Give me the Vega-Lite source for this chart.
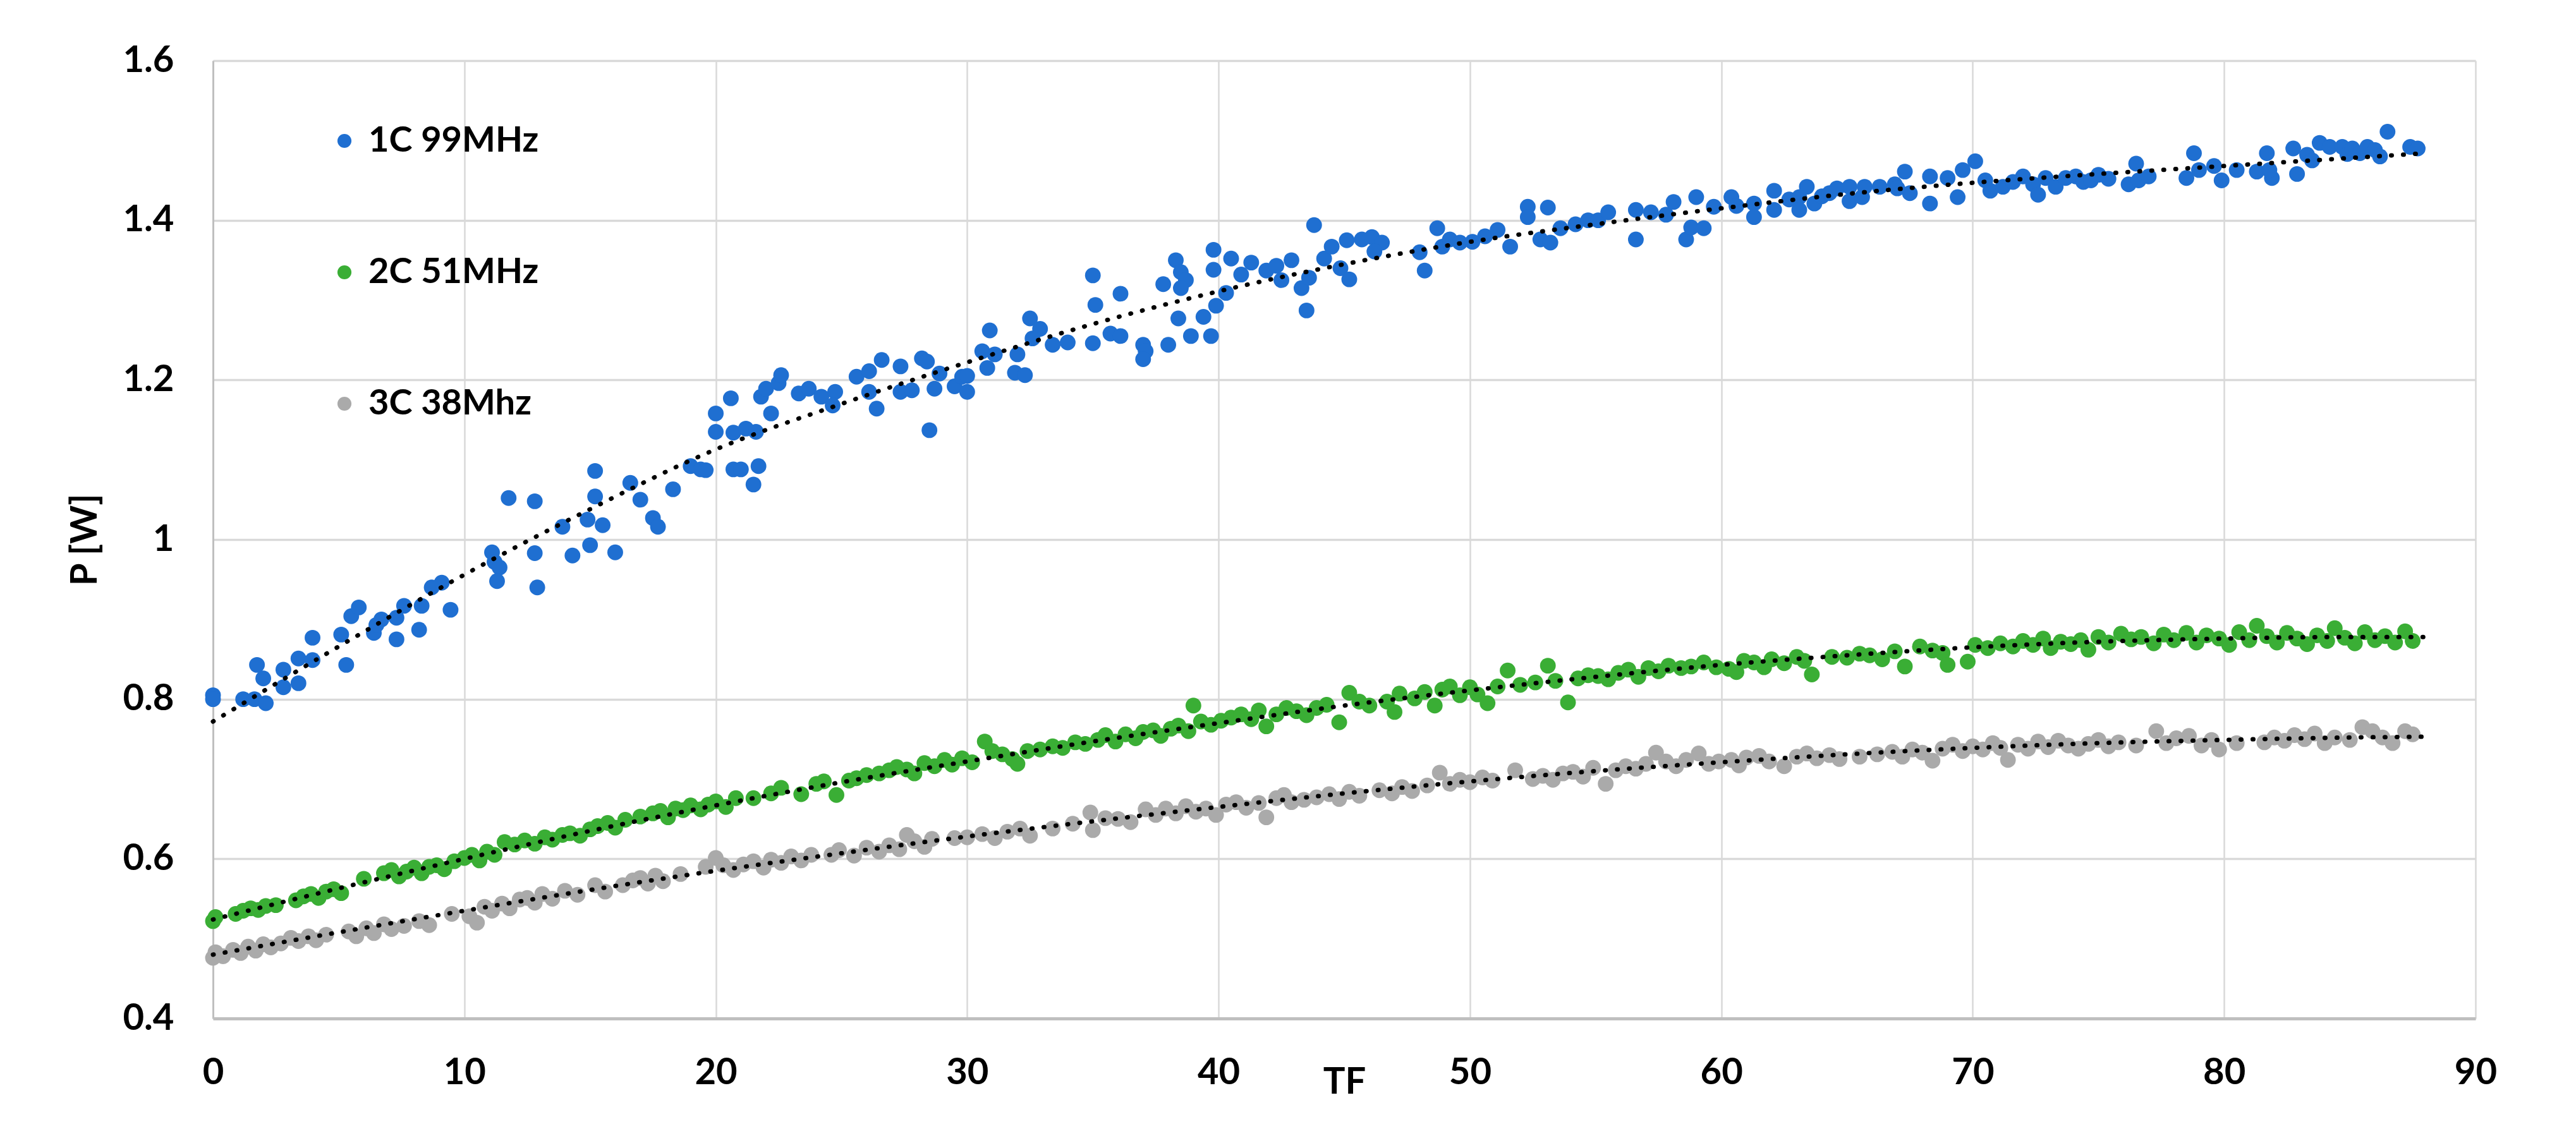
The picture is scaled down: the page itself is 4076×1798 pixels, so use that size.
{
"$schema": "https://vega.github.io/schema/vega-lite/v6.json",
"autosize": {"type": "none"},
"width": 3580,
"height": 1516,
"padding": {"left": 337, "top": 96, "right": 159, "bottom": 186},
"background": "white",
"config": {"view": {"stroke": null}},
"datasets": {
"pts": [
{"s":"1C 99MHz","t":0,"p":0.805},{"s":"1C 99MHz","t":0,"p":0.8},{"s":"1C 99MHz","t":1.2,"p":0.8},{"s":"1C 99MHz","t":1.65,"p":0.8},{"s":"1C 99MHz","t":2.1,"p":0.795},{"s":"1C 99MHz","t":1.75,"p":0.843},{"s":"1C 99MHz","t":2.0,"p":0.826},{"s":"1C 99MHz","t":2.8,"p":0.837},{"s":"1C 99MHz","t":2.8,"p":0.815},{"s":"1C 99MHz","t":3.4,"p":0.851},{"s":"1C 99MHz","t":3.4,"p":0.82},{"s":"1C 99MHz","t":3.96,"p":0.877},{"s":"1C 99MHz","t":3.96,"p":0.849},{"s":"1C 99MHz","t":5.3,"p":0.843},{"s":"1C 99MHz","t":5.1,"p":0.881},{"s":"1C 99MHz","t":5.5,"p":0.904},{"s":"1C 99MHz","t":5.8,"p":0.915},{"s":"1C 99MHz","t":6.4,"p":0.883},{"s":"1C 99MHz","t":6.5,"p":0.893},{"s":"1C 99MHz","t":6.7,"p":0.9},{"s":"1C 99MHz","t":7.3,"p":0.902},{"s":"1C 99MHz","t":7.3,"p":0.875},{"s":"1C 99MHz","t":7.6,"p":0.917},{"s":"1C 99MHz","t":8.2,"p":0.887},{"s":"1C 99MHz","t":8.3,"p":0.917},{"s":"1C 99MHz","t":8.7,"p":0.94},{"s":"1C 99MHz","t":9.1,"p":0.946},{"s":"1C 99MHz","t":9.45,"p":0.912},{"s":"1C 99MHz","t":11.1,"p":0.984},{"s":"1C 99MHz","t":11.2,"p":0.972},{"s":"1C 99MHz","t":11.4,"p":0.965},{"s":"1C 99MHz","t":11.3,"p":0.948},{"s":"1C 99MHz","t":11.76,"p":1.052},{"s":"1C 99MHz","t":12.8,"p":1.048},{"s":"1C 99MHz","t":12.8,"p":0.983},{"s":"1C 99MHz","t":12.9,"p":0.94},{"s":"1C 99MHz","t":13.9,"p":1.016},{"s":"1C 99MHz","t":14.3,"p":0.98},{"s":"1C 99MHz","t":14.9,"p":1.025},{"s":"1C 99MHz","t":15.2,"p":1.086},{"s":"1C 99MHz","t":15.2,"p":1.054},{"s":"1C 99MHz","t":15.5,"p":1.018},{"s":"1C 99MHz","t":15.0,"p":0.993},{"s":"1C 99MHz","t":16.0,"p":0.984},{"s":"1C 99MHz","t":16.6,"p":1.071},{"s":"1C 99MHz","t":17.0,"p":1.05},{"s":"1C 99MHz","t":17.5,"p":1.027},{"s":"1C 99MHz","t":17.7,"p":1.016},{"s":"1C 99MHz","t":18.3,"p":1.063},{"s":"1C 99MHz","t":19.0,"p":1.092},{"s":"1C 99MHz","t":19.4,"p":1.088},{"s":"1C 99MHz","t":19.6,"p":1.087},{"s":"1C 99MHz","t":20.0,"p":1.158},{"s":"1C 99MHz","t":20.0,"p":1.135},{"s":"1C 99MHz","t":20.6,"p":1.177},{"s":"1C 99MHz","t":20.7,"p":1.134},{"s":"1C 99MHz","t":20.7,"p":1.088},{"s":"1C 99MHz","t":21.0,"p":1.088},{"s":"1C 99MHz","t":21.2,"p":1.139},{"s":"1C 99MHz","t":21.6,"p":1.135},{"s":"1C 99MHz","t":21.7,"p":1.092},{"s":"1C 99MHz","t":21.5,"p":1.069},{"s":"1C 99MHz","t":21.8,"p":1.179},{"s":"1C 99MHz","t":22.0,"p":1.189},{"s":"1C 99MHz","t":22.2,"p":1.158},{"s":"1C 99MHz","t":22.5,"p":1.196},{"s":"1C 99MHz","t":22.6,"p":1.206},{"s":"1C 99MHz","t":23.3,"p":1.183},{"s":"1C 99MHz","t":23.7,"p":1.189},{"s":"1C 99MHz","t":24.2,"p":1.179},{"s":"1C 99MHz","t":24.75,"p":1.185},{"s":"1C 99MHz","t":24.65,"p":1.168},{"s":"1C 99MHz","t":25.6,"p":1.204},{"s":"1C 99MHz","t":26.1,"p":1.211},{"s":"1C 99MHz","t":26.6,"p":1.225},{"s":"1C 99MHz","t":26.1,"p":1.185},{"s":"1C 99MHz","t":26.4,"p":1.164},{"s":"1C 99MHz","t":27.35,"p":1.217},{"s":"1C 99MHz","t":27.35,"p":1.185},{"s":"1C 99MHz","t":27.8,"p":1.187},{"s":"1C 99MHz","t":28.2,"p":1.227},{"s":"1C 99MHz","t":28.4,"p":1.223},{"s":"1C 99MHz","t":28.5,"p":1.137},{"s":"1C 99MHz","t":28.7,"p":1.189},{"s":"1C 99MHz","t":28.9,"p":1.208},{"s":"1C 99MHz","t":29.5,"p":1.192},{"s":"1C 99MHz","t":29.8,"p":1.204},
{"s":"1C 99MHz","t":30.0,"p":1.205},{"s":"1C 99MHz","t":30.0,"p":1.185},{"s":"1C 99MHz","t":30.6,"p":1.236},{"s":"1C 99MHz","t":30.8,"p":1.215},{"s":"1C 99MHz","t":31.1,"p":1.232},{"s":"1C 99MHz","t":30.9,"p":1.262},{"s":"1C 99MHz","t":32.0,"p":1.232},{"s":"1C 99MHz","t":31.9,"p":1.209},{"s":"1C 99MHz","t":32.3,"p":1.206},{"s":"1C 99MHz","t":32.5,"p":1.277},{"s":"1C 99MHz","t":32.9,"p":1.264},{"s":"1C 99MHz","t":32.6,"p":1.252},{"s":"1C 99MHz","t":33.4,"p":1.244},{"s":"1C 99MHz","t":34.0,"p":1.247},{"s":"1C 99MHz","t":35.0,"p":1.331},{"s":"1C 99MHz","t":35.1,"p":1.294},{"s":"1C 99MHz","t":35.0,"p":1.246},{"s":"1C 99MHz","t":35.7,"p":1.258},{"s":"1C 99MHz","t":36.1,"p":1.255},{"s":"1C 99MHz","t":36.1,"p":1.308},{"s":"1C 99MHz","t":37.0,"p":1.244},{"s":"1C 99MHz","t":37.1,"p":1.236},{"s":"1C 99MHz","t":37.0,"p":1.226},{"s":"1C 99MHz","t":37.8,"p":1.32},{"s":"1C 99MHz","t":38.0,"p":1.244},{"s":"1C 99MHz","t":38.3,"p":1.35},{"s":"1C 99MHz","t":38.5,"p":1.335},{"s":"1C 99MHz","t":38.7,"p":1.325},{"s":"1C 99MHz","t":38.5,"p":1.315},{"s":"1C 99MHz","t":38.4,"p":1.277},{"s":"1C 99MHz","t":38.9,"p":1.255},{"s":"1C 99MHz","t":39.4,"p":1.279},{"s":"1C 99MHz","t":39.7,"p":1.255},{"s":"1C 99MHz","t":39.8,"p":1.363},{"s":"1C 99MHz","t":39.8,"p":1.338},{"s":"1C 99MHz","t":39.9,"p":1.293},{"s":"1C 99MHz","t":40.3,"p":1.309},{"s":"1C 99MHz","t":40.5,"p":1.352},{"s":"1C 99MHz","t":40.9,"p":1.332},{"s":"1C 99MHz","t":41.3,"p":1.347},{"s":"1C 99MHz","t":41.9,"p":1.337},{"s":"1C 99MHz","t":42.3,"p":1.343},{"s":"1C 99MHz","t":42.5,"p":1.325},{"s":"1C 99MHz","t":42.9,"p":1.35},{"s":"1C 99MHz","t":43.3,"p":1.315},{"s":"1C 99MHz","t":43.5,"p":1.287},{"s":"1C 99MHz","t":43.6,"p":1.328},{"s":"1C 99MHz","t":43.8,"p":1.394},{"s":"1C 99MHz","t":44.2,"p":1.352},{"s":"1C 99MHz","t":44.5,"p":1.367},{"s":"1C 99MHz","t":44.85,"p":1.34},{"s":"1C 99MHz","t":45.1,"p":1.375},{"s":"1C 99MHz","t":45.2,"p":1.326},{"s":"1C 99MHz","t":45.7,"p":1.376},{"s":"1C 99MHz","t":46.1,"p":1.379},{"s":"1C 99MHz","t":46.5,"p":1.372},{"s":"1C 99MHz","t":46.2,"p":1.361},{"s":"1C 99MHz","t":48.0,"p":1.36},{"s":"1C 99MHz","t":48.2,"p":1.337},{"s":"1C 99MHz","t":48.7,"p":1.39},{"s":"1C 99MHz","t":48.9,"p":1.367},{"s":"1C 99MHz","t":49.2,"p":1.376},{"s":"1C 99MHz","t":49.6,"p":1.372},{"s":"1C 99MHz","t":50.1,"p":1.373},{"s":"1C 99MHz","t":50.6,"p":1.38},{"s":"1C 99MHz","t":51.1,"p":1.388},{"s":"1C 99MHz","t":51.6,"p":1.367},{"s":"1C 99MHz","t":52.3,"p":1.417},{"s":"1C 99MHz","t":52.3,"p":1.404},{"s":"1C 99MHz","t":52.8,"p":1.376},{"s":"1C 99MHz","t":53.1,"p":1.416},{"s":"1C 99MHz","t":53.2,"p":1.372},{"s":"1C 99MHz","t":53.6,"p":1.39},{"s":"1C 99MHz","t":54.2,"p":1.395},{"s":"1C 99MHz","t":54.7,"p":1.4},{"s":"1C 99MHz","t":55.1,"p":1.4},{"s":"1C 99MHz","t":55.5,"p":1.41},{"s":"1C 99MHz","t":56.6,"p":1.413},{"s":"1C 99MHz","t":56.6,"p":1.376},{"s":"1C 99MHz","t":57.2,"p":1.41},{"s":"1C 99MHz","t":57.8,"p":1.407},{"s":"1C 99MHz","t":58.1,"p":1.423},{"s":"1C 99MHz","t":58.6,"p":1.376},{"s":"1C 99MHz","t":58.8,"p":1.391},{"s":"1C 99MHz","t":59.0,"p":1.429},{"s":"1C 99MHz","t":59.3,"p":1.39},{"s":"1C 99MHz","t":59.7,"p":1.417},
{"s":"1C 99MHz","t":60.4,"p":1.429},{"s":"1C 99MHz","t":60.6,"p":1.418},{"s":"1C 99MHz","t":61.3,"p":1.421},{"s":"1C 99MHz","t":61.3,"p":1.404},{"s":"1C 99MHz","t":62.1,"p":1.437},{"s":"1C 99MHz","t":62.1,"p":1.413},{"s":"1C 99MHz","t":62.7,"p":1.426},{"s":"1C 99MHz","t":63.1,"p":1.429},{"s":"1C 99MHz","t":63.1,"p":1.413},{"s":"1C 99MHz","t":63.4,"p":1.442},{"s":"1C 99MHz","t":63.7,"p":1.421},{"s":"1C 99MHz","t":64.0,"p":1.43},{"s":"1C 99MHz","t":64.3,"p":1.434},{"s":"1C 99MHz","t":64.6,"p":1.44},{"s":"1C 99MHz","t":65.1,"p":1.442},{"s":"1C 99MHz","t":65.1,"p":1.424},{"s":"1C 99MHz","t":65.6,"p":1.429},{"s":"1C 99MHz","t":65.7,"p":1.442},{"s":"1C 99MHz","t":66.3,"p":1.442},{"s":"1C 99MHz","t":66.9,"p":1.445},{"s":"1C 99MHz","t":67.0,"p":1.44},{"s":"1C 99MHz","t":67.3,"p":1.461},{"s":"1C 99MHz","t":67.5,"p":1.434},{"s":"1C 99MHz","t":68.3,"p":1.455},{"s":"1C 99MHz","t":68.3,"p":1.421},{"s":"1C 99MHz","t":69.0,"p":1.453},{"s":"1C 99MHz","t":69.4,"p":1.429},{"s":"1C 99MHz","t":69.6,"p":1.463},{"s":"1C 99MHz","t":70.1,"p":1.474},{"s":"1C 99MHz","t":70.5,"p":1.45},{"s":"1C 99MHz","t":70.7,"p":1.437},{"s":"1C 99MHz","t":71.2,"p":1.442},{"s":"1C 99MHz","t":71.6,"p":1.448},{"s":"1C 99MHz","t":72.0,"p":1.455},{"s":"1C 99MHz","t":72.4,"p":1.445},{"s":"1C 99MHz","t":72.6,"p":1.432},{"s":"1C 99MHz","t":72.9,"p":1.453},{"s":"1C 99MHz","t":73.3,"p":1.442},{"s":"1C 99MHz","t":73.7,"p":1.453},{"s":"1C 99MHz","t":74.1,"p":1.455},{"s":"1C 99MHz","t":74.4,"p":1.448},{"s":"1C 99MHz","t":74.7,"p":1.45},{"s":"1C 99MHz","t":75.0,"p":1.457},{"s":"1C 99MHz","t":75.4,"p":1.452},{"s":"1C 99MHz","t":76.2,"p":1.445},{"s":"1C 99MHz","t":76.5,"p":1.471},{"s":"1C 99MHz","t":76.6,"p":1.45},{"s":"1C 99MHz","t":77.0,"p":1.455},{"s":"1C 99MHz","t":78.5,"p":1.453},{"s":"1C 99MHz","t":78.8,"p":1.484},{"s":"1C 99MHz","t":79.0,"p":1.463},{"s":"1C 99MHz","t":79.6,"p":1.468},{"s":"1C 99MHz","t":79.9,"p":1.45},{"s":"1C 99MHz","t":80.5,"p":1.463},{"s":"1C 99MHz","t":81.3,"p":1.461},{"s":"1C 99MHz","t":81.7,"p":1.484},{"s":"1C 99MHz","t":81.9,"p":1.453},{"s":"1C 99MHz","t":81.8,"p":1.463},{"s":"1C 99MHz","t":82.75,"p":1.49},{"s":"1C 99MHz","t":82.9,"p":1.458},{"s":"1C 99MHz","t":83.3,"p":1.482},{"s":"1C 99MHz","t":83.5,"p":1.475},{"s":"1C 99MHz","t":83.8,"p":1.497},{"s":"1C 99MHz","t":84.2,"p":1.492},{"s":"1C 99MHz","t":84.7,"p":1.492},{"s":"1C 99MHz","t":84.9,"p":1.483},{"s":"1C 99MHz","t":85.1,"p":1.49},{"s":"1C 99MHz","t":85.4,"p":1.484},{"s":"1C 99MHz","t":85.7,"p":1.492},{"s":"1C 99MHz","t":86.0,"p":1.488},{"s":"1C 99MHz","t":86.2,"p":1.48},{"s":"1C 99MHz","t":86.5,"p":1.511},{"s":"1C 99MHz","t":87.4,"p":1.492},{"s":"1C 99MHz","t":87.7,"p":1.49},
{"s":"2C 51MHz","t":0.0,"p":0.522},{"s":"2C 51MHz","t":0.1,"p":0.527},{"s":"2C 51MHz","t":0.9,"p":0.531},{"s":"2C 51MHz","t":1.2,"p":0.535},{"s":"2C 51MHz","t":1.5,"p":0.538},{"s":"2C 51MHz","t":1.8,"p":0.536},{"s":"2C 51MHz","t":2.1,"p":0.541},{"s":"2C 51MHz","t":2.5,"p":0.542},{"s":"2C 51MHz","t":3.3,"p":0.548},{"s":"2C 51MHz","t":3.6,"p":0.553},{"s":"2C 51MHz","t":3.9,"p":0.556},{"s":"2C 51MHz","t":4.2,"p":0.551},{"s":"2C 51MHz","t":4.5,"p":0.559},{"s":"2C 51MHz","t":4.8,"p":0.562},{"s":"2C 51MHz","t":5.1,"p":0.557},{"s":"2C 51MHz","t":6.0,"p":0.575},{"s":"2C 51MHz","t":6.8,"p":0.582},{"s":"2C 51MHz","t":7.1,"p":0.586},{"s":"2C 51MHz","t":7.4,"p":0.578},{"s":"2C 51MHz","t":7.7,"p":0.584},{"s":"2C 51MHz","t":8.0,"p":0.589},{"s":"2C 51MHz","t":8.3,"p":0.582},{"s":"2C 51MHz","t":8.6,"p":0.59},{"s":"2C 51MHz","t":8.9,"p":0.592},{"s":"2C 51MHz","t":9.2,"p":0.587},{"s":"2C 51MHz","t":9.6,"p":0.597},{"s":"2C 51MHz","t":10.0,"p":0.601},{"s":"2C 51MHz","t":10.3,"p":0.605},{"s":"2C 51MHz","t":10.6,"p":0.598},{"s":"2C 51MHz","t":10.9,"p":0.609},{"s":"2C 51MHz","t":11.2,"p":0.605},{"s":"2C 51MHz","t":11.6,"p":0.621},{"s":"2C 51MHz","t":12.0,"p":0.618},{"s":"2C 51MHz","t":12.4,"p":0.623},{"s":"2C 51MHz","t":12.8,"p":0.619},{"s":"2C 51MHz","t":13.2,"p":0.627},{"s":"2C 51MHz","t":13.5,"p":0.624},{"s":"2C 51MHz","t":13.9,"p":0.63},{"s":"2C 51MHz","t":14.2,"p":0.632},{"s":"2C 51MHz","t":14.6,"p":0.629},{"s":"2C 51MHz","t":15.0,"p":0.637},{"s":"2C 51MHz","t":15.3,"p":0.641},{"s":"2C 51MHz","t":15.7,"p":0.645},{"s":"2C 51MHz","t":16.0,"p":0.639},{"s":"2C 51MHz","t":16.4,"p":0.649},{"s":"2C 51MHz","t":17.0,"p":0.653},{"s":"2C 51MHz","t":17.5,"p":0.657},{"s":"2C 51MHz","t":17.8,"p":0.66},{"s":"2C 51MHz","t":18.1,"p":0.652},{"s":"2C 51MHz","t":18.4,"p":0.663},{"s":"2C 51MHz","t":18.7,"p":0.661},{"s":"2C 51MHz","t":19.0,"p":0.667},{"s":"2C 51MHz","t":19.4,"p":0.662},{"s":"2C 51MHz","t":19.7,"p":0.668},{"s":"2C 51MHz","t":20.0,"p":0.672},{"s":"2C 51MHz","t":20.4,"p":0.665},{"s":"2C 51MHz","t":20.8,"p":0.676},{"s":"2C 51MHz","t":21.5,"p":0.676},{"s":"2C 51MHz","t":22.2,"p":0.682},{"s":"2C 51MHz","t":22.6,"p":0.689},{"s":"2C 51MHz","t":23.4,"p":0.681},{"s":"2C 51MHz","t":24.0,"p":0.694},{"s":"2C 51MHz","t":24.3,"p":0.697},{"s":"2C 51MHz","t":24.8,"p":0.68},{"s":"2C 51MHz","t":25.3,"p":0.698},{"s":"2C 51MHz","t":25.6,"p":0.701},{"s":"2C 51MHz","t":26.0,"p":0.705},{"s":"2C 51MHz","t":26.5,"p":0.707},{"s":"2C 51MHz","t":26.9,"p":0.711},{"s":"2C 51MHz","t":27.2,"p":0.715},{"s":"2C 51MHz","t":27.6,"p":0.712},{"s":"2C 51MHz","t":27.9,"p":0.707},{"s":"2C 51MHz","t":28.3,"p":0.72},{"s":"2C 51MHz","t":28.7,"p":0.716},{"s":"2C 51MHz","t":29.1,"p":0.724},{"s":"2C 51MHz","t":29.4,"p":0.718},{"s":"2C 51MHz","t":29.8,"p":0.726},{"s":"2C 51MHz","t":30.2,"p":0.721},{"s":"2C 51MHz","t":30.7,"p":0.747},{"s":"2C 51MHz","t":31.0,"p":0.735},{"s":"2C 51MHz","t":31.4,"p":0.731},{"s":"2C 51MHz","t":31.8,"p":0.725},{"s":"2C 51MHz","t":32.0,"p":0.719},{"s":"2C 51MHz","t":32.4,"p":0.735},{"s":"2C 51MHz","t":32.9,"p":0.737},{"s":"2C 51MHz","t":33.4,"p":0.741},{"s":"2C 51MHz","t":33.8,"p":0.739},{"s":"2C 51MHz","t":34.3,"p":0.746},{"s":"2C 51MHz","t":34.7,"p":0.744},{"s":"2C 51MHz","t":35.2,"p":0.749},{"s":"2C 51MHz","t":35.5,"p":0.755},{"s":"2C 51MHz","t":35.9,"p":0.747},{"s":"2C 51MHz","t":36.3,"p":0.756},{"s":"2C 51MHz","t":36.7,"p":0.751},{"s":"2C 51MHz","t":37.0,"p":0.759},{"s":"2C 51MHz","t":37.4,"p":0.761},{"s":"2C 51MHz","t":37.7,"p":0.754},{"s":"2C 51MHz","t":38.1,"p":0.763},{"s":"2C 51MHz","t":38.4,"p":0.767},{"s":"2C 51MHz","t":38.8,"p":0.76},{"s":"2C 51MHz","t":39.0,"p":0.792},{"s":"2C 51MHz","t":39.3,"p":0.772},{"s":"2C 51MHz","t":39.7,"p":0.768},{"s":"2C 51MHz","t":40.1,"p":0.773},{"s":"2C 51MHz","t":40.5,"p":0.777},{"s":"2C 51MHz","t":40.9,"p":0.781},{"s":"2C 51MHz","t":41.3,"p":0.775},{"s":"2C 51MHz","t":41.6,"p":0.786},{"s":"2C 51MHz","t":41.9,"p":0.766},{"s":"2C 51MHz","t":42.3,"p":0.781},{"s":"2C 51MHz","t":42.7,"p":0.789},{"s":"2C 51MHz","t":43.1,"p":0.785},{"s":"2C 51MHz","t":43.5,"p":0.78},{"s":"2C 51MHz","t":43.9,"p":0.789},{"s":"2C 51MHz","t":44.3,"p":0.793},{"s":"2C 51MHz","t":44.8,"p":0.771},{"s":"2C 51MHz","t":45.2,"p":0.808},{"s":"2C 51MHz","t":45.6,"p":0.797},{"s":"2C 51MHz","t":46.0,"p":0.792},{"s":"2C 51MHz","t":46.7,"p":0.797},{"s":"2C 51MHz","t":47.0,"p":0.784},{"s":"2C 51MHz","t":47.2,"p":0.807},{"s":"2C 51MHz","t":47.8,"p":0.801},{"s":"2C 51MHz","t":48.2,"p":0.809},{"s":"2C 51MHz","t":48.6,"p":0.792},{"s":"2C 51MHz","t":48.9,"p":0.812},{"s":"2C 51MHz","t":49.2,"p":0.816},{"s":"2C 51MHz","t":49.6,"p":0.805},{"s":"2C 51MHz","t":50.0,"p":0.815},{"s":"2C 51MHz","t":50.3,"p":0.806},{"s":"2C 51MHz","t":50.7,"p":0.795},{"s":"2C 51MHz","t":51.1,"p":0.816},{"s":"2C 51MHz","t":51.5,"p":0.836},{"s":"2C 51MHz","t":52.0,"p":0.818},{"s":"2C 51MHz","t":52.6,"p":0.821},{"s":"2C 51MHz","t":53.1,"p":0.842},{"s":"2C 51MHz","t":53.4,"p":0.823},{"s":"2C 51MHz","t":53.9,"p":0.796},{"s":"2C 51MHz","t":54.3,"p":0.826},{"s":"2C 51MHz","t":54.7,"p":0.83},{"s":"2C 51MHz","t":55.1,"p":0.829},{"s":"2C 51MHz","t":55.5,"p":0.825},{"s":"2C 51MHz","t":55.9,"p":0.833},{"s":"2C 51MHz","t":56.3,"p":0.837},{"s":"2C 51MHz","t":56.7,"p":0.828},{"s":"2C 51MHz","t":57.1,"p":0.839},{"s":"2C 51MHz","t":57.5,"p":0.835},{"s":"2C 51MHz","t":57.9,"p":0.842},{"s":"2C 51MHz","t":58.4,"p":0.839},{"s":"2C 51MHz","t":58.8,"p":0.841},{"s":"2C 51MHz","t":59.3,"p":0.846},{"s":"2C 51MHz","t":59.8,"p":0.84},{"s":"2C 51MHz","t":60.3,"p":0.838},{"s":"2C 51MHz","t":60.6,"p":0.834},{"s":"2C 51MHz","t":60.9,"p":0.848},{"s":"2C 51MHz","t":61.3,"p":0.846},{"s":"2C 51MHz","t":61.7,"p":0.84},{"s":"2C 51MHz","t":62.0,"p":0.85},{"s":"2C 51MHz","t":62.5,"p":0.845},{"s":"2C 51MHz","t":63.0,"p":0.853},{"s":"2C 51MHz","t":63.3,"p":0.848},{"s":"2C 51MHz","t":63.6,"p":0.831},{"s":"2C 51MHz","t":64.4,"p":0.853},{"s":"2C 51MHz","t":65.0,"p":0.852},{"s":"2C 51MHz","t":65.5,"p":0.857},{"s":"2C 51MHz","t":65.9,"p":0.855},{"s":"2C 51MHz","t":66.4,"p":0.85},{"s":"2C 51MHz","t":66.9,"p":0.86},{"s":"2C 51MHz","t":67.3,"p":0.841},{"s":"2C 51MHz","t":67.9,"p":0.866},{"s":"2C 51MHz","t":68.4,"p":0.861},{"s":"2C 51MHz","t":68.8,"p":0.858},{"s":"2C 51MHz","t":69.0,"p":0.843},{"s":"2C 51MHz","t":69.8,"p":0.847},{"s":"2C 51MHz","t":70.1,"p":0.868},{"s":"2C 51MHz","t":70.6,"p":0.864},{"s":"2C 51MHz","t":71.1,"p":0.87},{"s":"2C 51MHz","t":71.6,"p":0.866},{"s":"2C 51MHz","t":72.0,"p":0.873},{"s":"2C 51MHz","t":72.4,"p":0.868},{"s":"2C 51MHz","t":72.8,"p":0.876},{"s":"2C 51MHz","t":73.1,"p":0.864},{"s":"2C 51MHz","t":73.5,"p":0.872},{"s":"2C 51MHz","t":73.9,"p":0.869},{"s":"2C 51MHz","t":74.3,"p":0.874},{"s":"2C 51MHz","t":74.6,"p":0.862},{"s":"2C 51MHz","t":75.0,"p":0.878},{"s":"2C 51MHz","t":75.4,"p":0.871},{"s":"2C 51MHz","t":75.9,"p":0.882},{"s":"2C 51MHz","t":76.3,"p":0.875},{"s":"2C 51MHz","t":76.7,"p":0.878},{"s":"2C 51MHz","t":77.2,"p":0.87},{"s":"2C 51MHz","t":77.6,"p":0.881},{"s":"2C 51MHz","t":78.0,"p":0.874},{"s":"2C 51MHz","t":78.5,"p":0.883},{"s":"2C 51MHz","t":78.9,"p":0.871},{"s":"2C 51MHz","t":79.3,"p":0.88},{"s":"2C 51MHz","t":79.8,"p":0.876},{"s":"2C 51MHz","t":80.2,"p":0.868},{"s":"2C 51MHz","t":80.6,"p":0.884},{"s":"2C 51MHz","t":81.0,"p":0.874},{"s":"2C 51MHz","t":81.3,"p":0.892},{"s":"2C 51MHz","t":81.7,"p":0.879},{"s":"2C 51MHz","t":82.1,"p":0.871},{"s":"2C 51MHz","t":82.5,"p":0.883},{"s":"2C 51MHz","t":82.9,"p":0.876},{"s":"2C 51MHz","t":83.3,"p":0.869},{"s":"2C 51MHz","t":83.7,"p":0.88},{"s":"2C 51MHz","t":84.1,"p":0.873},{"s":"2C 51MHz","t":84.4,"p":0.889},{"s":"2C 51MHz","t":84.8,"p":0.877},{"s":"2C 51MHz","t":85.2,"p":0.87},{"s":"2C 51MHz","t":85.6,"p":0.884},{"s":"2C 51MHz","t":86.0,"p":0.874},{"s":"2C 51MHz","t":86.4,"p":0.879},{"s":"2C 51MHz","t":86.8,"p":0.871},{"s":"2C 51MHz","t":87.2,"p":0.885},{"s":"2C 51MHz","t":87.5,"p":0.873},
{"s":"3C 38Mhz","t":0.0,"p":0.476},{"s":"3C 38Mhz","t":0.1,"p":0.483},{"s":"3C 38Mhz","t":0.4,"p":0.478},{"s":"3C 38Mhz","t":0.8,"p":0.486},{"s":"3C 38Mhz","t":1.1,"p":0.482},{"s":"3C 38Mhz","t":1.4,"p":0.49},{"s":"3C 38Mhz","t":1.7,"p":0.485},{"s":"3C 38Mhz","t":2.0,"p":0.493},{"s":"3C 38Mhz","t":2.3,"p":0.489},{"s":"3C 38Mhz","t":2.7,"p":0.494},{"s":"3C 38Mhz","t":3.1,"p":0.501},{"s":"3C 38Mhz","t":3.4,"p":0.497},{"s":"3C 38Mhz","t":3.8,"p":0.503},{"s":"3C 38Mhz","t":4.1,"p":0.498},{"s":"3C 38Mhz","t":4.5,"p":0.505},{"s":"3C 38Mhz","t":5.4,"p":0.509},{"s":"3C 38Mhz","t":5.7,"p":0.503},{"s":"3C 38Mhz","t":6.1,"p":0.513},{"s":"3C 38Mhz","t":6.4,"p":0.507},{"s":"3C 38Mhz","t":6.8,"p":0.518},{"s":"3C 38Mhz","t":7.1,"p":0.512},{"s":"3C 38Mhz","t":7.6,"p":0.516},{"s":"3C 38Mhz","t":8.2,"p":0.522},{"s":"3C 38Mhz","t":8.6,"p":0.517},{"s":"3C 38Mhz","t":9.5,"p":0.531},{"s":"3C 38Mhz","t":10.2,"p":0.528},{"s":"3C 38Mhz","t":10.5,"p":0.52},{"s":"3C 38Mhz","t":10.8,"p":0.54},{"s":"3C 38Mhz","t":11.1,"p":0.535},{"s":"3C 38Mhz","t":11.5,"p":0.544},{"s":"3C 38Mhz","t":11.8,"p":0.538},{"s":"3C 38Mhz","t":12.2,"p":0.549},{"s":"3C 38Mhz","t":12.5,"p":0.551},{"s":"3C 38Mhz","t":12.8,"p":0.545},{"s":"3C 38Mhz","t":13.1,"p":0.556},{"s":"3C 38Mhz","t":13.5,"p":0.55},{"s":"3C 38Mhz","t":14.0,"p":0.56},{"s":"3C 38Mhz","t":14.5,"p":0.555},{"s":"3C 38Mhz","t":15.2,"p":0.567},{"s":"3C 38Mhz","t":15.6,"p":0.559},{"s":"3C 38Mhz","t":16.3,"p":0.567},{"s":"3C 38Mhz","t":16.7,"p":0.573},{"s":"3C 38Mhz","t":17.0,"p":0.576},{"s":"3C 38Mhz","t":17.3,"p":0.569},{"s":"3C 38Mhz","t":17.6,"p":0.579},{"s":"3C 38Mhz","t":17.9,"p":0.572},{"s":"3C 38Mhz","t":18.6,"p":0.581},{"s":"3C 38Mhz","t":19.6,"p":0.59},{"s":"3C 38Mhz","t":20.0,"p":0.601},{"s":"3C 38Mhz","t":20.3,"p":0.592},{"s":"3C 38Mhz","t":20.7,"p":0.586},{"s":"3C 38Mhz","t":21.1,"p":0.593},{"s":"3C 38Mhz","t":21.5,"p":0.597},{"s":"3C 38Mhz","t":21.9,"p":0.589},{"s":"3C 38Mhz","t":22.2,"p":0.599},{"s":"3C 38Mhz","t":22.6,"p":0.595},{"s":"3C 38Mhz","t":23.0,"p":0.603},{"s":"3C 38Mhz","t":23.4,"p":0.598},{"s":"3C 38Mhz","t":23.8,"p":0.605},{"s":"3C 38Mhz","t":24.6,"p":0.605},{"s":"3C 38Mhz","t":24.9,"p":0.611},{"s":"3C 38Mhz","t":25.5,"p":0.604},{"s":"3C 38Mhz","t":26.0,"p":0.614},{"s":"3C 38Mhz","t":26.5,"p":0.609},{"s":"3C 38Mhz","t":26.9,"p":0.617},{"s":"3C 38Mhz","t":27.3,"p":0.612},{"s":"3C 38Mhz","t":27.6,"p":0.63},{"s":"3C 38Mhz","t":27.9,"p":0.622},{"s":"3C 38Mhz","t":28.3,"p":0.615},{"s":"3C 38Mhz","t":28.6,"p":0.625},{"s":"3C 38Mhz","t":29.5,"p":0.626},{"s":"3C 38Mhz","t":30.0,"p":0.627},{"s":"3C 38Mhz","t":30.6,"p":0.631},{"s":"3C 38Mhz","t":31.1,"p":0.626},{"s":"3C 38Mhz","t":31.6,"p":0.634},{"s":"3C 38Mhz","t":32.1,"p":0.638},{"s":"3C 38Mhz","t":32.5,"p":0.629},{"s":"3C 38Mhz","t":33.4,"p":0.638},{"s":"3C 38Mhz","t":34.2,"p":0.644},{"s":"3C 38Mhz","t":34.9,"p":0.658},{"s":"3C 38Mhz","t":35.0,"p":0.636},{"s":"3C 38Mhz","t":35.5,"p":0.651},{"s":"3C 38Mhz","t":36.0,"p":0.65},{"s":"3C 38Mhz","t":36.5,"p":0.646},{"s":"3C 38Mhz","t":37.1,"p":0.662},{"s":"3C 38Mhz","t":37.5,"p":0.655},{"s":"3C 38Mhz","t":37.9,"p":0.663},{"s":"3C 38Mhz","t":38.3,"p":0.657},{"s":"3C 38Mhz","t":38.7,"p":0.666},{"s":"3C 38Mhz","t":39.1,"p":0.659},{"s":"3C 38Mhz","t":39.5,"p":0.663},{"s":"3C 38Mhz","t":39.9,"p":0.655},{"s":"3C 38Mhz","t":40.3,"p":0.668},{"s":"3C 38Mhz","t":40.7,"p":0.671},{"s":"3C 38Mhz","t":41.1,"p":0.664},{"s":"3C 38Mhz","t":41.6,"p":0.67},{"s":"3C 38Mhz","t":41.9,"p":0.652},{"s":"3C 38Mhz","t":42.3,"p":0.676},{"s":"3C 38Mhz","t":42.6,"p":0.68},{"s":"3C 38Mhz","t":42.9,"p":0.671},{"s":"3C 38Mhz","t":43.4,"p":0.674},{"s":"3C 38Mhz","t":43.9,"p":0.677},{"s":"3C 38Mhz","t":44.4,"p":0.681},{"s":"3C 38Mhz","t":44.8,"p":0.675},{"s":"3C 38Mhz","t":45.2,"p":0.684},{"s":"3C 38Mhz","t":45.6,"p":0.679},{"s":"3C 38Mhz","t":46.4,"p":0.686},{"s":"3C 38Mhz","t":46.9,"p":0.682},{"s":"3C 38Mhz","t":47.3,"p":0.69},{"s":"3C 38Mhz","t":47.7,"p":0.685},{"s":"3C 38Mhz","t":48.3,"p":0.692},{"s":"3C 38Mhz","t":48.8,"p":0.708},{"s":"3C 38Mhz","t":49.2,"p":0.694},{"s":"3C 38Mhz","t":49.6,"p":0.699},{"s":"3C 38Mhz","t":50.0,"p":0.696},{"s":"3C 38Mhz","t":50.5,"p":0.702},{"s":"3C 38Mhz","t":50.9,"p":0.698},{"s":"3C 38Mhz","t":51.8,"p":0.711},{"s":"3C 38Mhz","t":52.5,"p":0.7},{"s":"3C 38Mhz","t":52.9,"p":0.704},{"s":"3C 38Mhz","t":53.3,"p":0.699},{"s":"3C 38Mhz","t":53.7,"p":0.707},{"s":"3C 38Mhz","t":54.1,"p":0.709},{"s":"3C 38Mhz","t":54.5,"p":0.703},{"s":"3C 38Mhz","t":54.9,"p":0.714},{"s":"3C 38Mhz","t":55.4,"p":0.694},{"s":"3C 38Mhz","t":55.8,"p":0.711},{"s":"3C 38Mhz","t":56.2,"p":0.716},{"s":"3C 38Mhz","t":56.6,"p":0.713},{"s":"3C 38Mhz","t":57.0,"p":0.719},{"s":"3C 38Mhz","t":57.4,"p":0.733},{"s":"3C 38Mhz","t":57.8,"p":0.722},{"s":"3C 38Mhz","t":58.2,"p":0.716},{"s":"3C 38Mhz","t":58.6,"p":0.724},{"s":"3C 38Mhz","t":59.1,"p":0.732},{"s":"3C 38Mhz","t":59.5,"p":0.719},{"s":"3C 38Mhz","t":59.9,"p":0.722},{"s":"3C 38Mhz","t":60.4,"p":0.724},{"s":"3C 38Mhz","t":60.7,"p":0.717},{"s":"3C 38Mhz","t":61.0,"p":0.727},{"s":"3C 38Mhz","t":61.5,"p":0.729},{"s":"3C 38Mhz","t":61.9,"p":0.722},{"s":"3C 38Mhz","t":62.5,"p":0.716},{"s":"3C 38Mhz","t":63.0,"p":0.728},{"s":"3C 38Mhz","t":63.4,"p":0.732},{"s":"3C 38Mhz","t":63.8,"p":0.726},{"s":"3C 38Mhz","t":64.3,"p":0.73},{"s":"3C 38Mhz","t":64.7,"p":0.725},{"s":"3C 38Mhz","t":65.5,"p":0.728},{"s":"3C 38Mhz","t":66.2,"p":0.731},{"s":"3C 38Mhz","t":66.8,"p":0.734},{"s":"3C 38Mhz","t":67.2,"p":0.728},{"s":"3C 38Mhz","t":67.6,"p":0.737},{"s":"3C 38Mhz","t":68.0,"p":0.733},{"s":"3C 38Mhz","t":68.4,"p":0.723},{"s":"3C 38Mhz","t":68.8,"p":0.738},{"s":"3C 38Mhz","t":69.2,"p":0.743},{"s":"3C 38Mhz","t":69.6,"p":0.735},{"s":"3C 38Mhz","t":70.0,"p":0.741},{"s":"3C 38Mhz","t":70.4,"p":0.737},{"s":"3C 38Mhz","t":70.8,"p":0.745},{"s":"3C 38Mhz","t":71.1,"p":0.739},{"s":"3C 38Mhz","t":71.4,"p":0.724},{"s":"3C 38Mhz","t":71.8,"p":0.743},{"s":"3C 38Mhz","t":72.2,"p":0.738},{"s":"3C 38Mhz","t":72.6,"p":0.747},{"s":"3C 38Mhz","t":73.0,"p":0.74},{"s":"3C 38Mhz","t":73.4,"p":0.748},{"s":"3C 38Mhz","t":73.8,"p":0.742},{"s":"3C 38Mhz","t":74.2,"p":0.738},{"s":"3C 38Mhz","t":74.6,"p":0.744},{"s":"3C 38Mhz","t":75.0,"p":0.749},{"s":"3C 38Mhz","t":75.4,"p":0.741},{"s":"3C 38Mhz","t":75.8,"p":0.746},{"s":"3C 38Mhz","t":76.5,"p":0.742},{"s":"3C 38Mhz","t":77.3,"p":0.76},{"s":"3C 38Mhz","t":77.7,"p":0.745},{"s":"3C 38Mhz","t":78.1,"p":0.751},{"s":"3C 38Mhz","t":78.6,"p":0.754},{"s":"3C 38Mhz","t":79.1,"p":0.742},{"s":"3C 38Mhz","t":79.5,"p":0.749},{"s":"3C 38Mhz","t":79.8,"p":0.737},{"s":"3C 38Mhz","t":80.5,"p":0.745},{"s":"3C 38Mhz","t":81.6,"p":0.746},{"s":"3C 38Mhz","t":82.0,"p":0.752},{"s":"3C 38Mhz","t":82.4,"p":0.748},{"s":"3C 38Mhz","t":82.8,"p":0.755},{"s":"3C 38Mhz","t":83.2,"p":0.75},{"s":"3C 38Mhz","t":83.6,"p":0.757},{"s":"3C 38Mhz","t":84.0,"p":0.745},{"s":"3C 38Mhz","t":84.4,"p":0.752},{"s":"3C 38Mhz","t":85.0,"p":0.749},{"s":"3C 38Mhz","t":85.5,"p":0.765},{"s":"3C 38Mhz","t":85.9,"p":0.76},{"s":"3C 38Mhz","t":86.3,"p":0.752},{"s":"3C 38Mhz","t":86.7,"p":0.745},{"s":"3C 38Mhz","t":87.2,"p":0.76},{"s":"3C 38Mhz","t":87.5,"p":0.756}
],
"trend": [
{"s":"1C 99MHz","t":0,"p":0.772},{"s":"1C 99MHz","t":5,"p":0.866},{"s":"1C 99MHz","t":10,"p":0.956},{"s":"1C 99MHz","t":15,"p":1.038},{"s":"1C 99MHz","t":20,"p":1.113},{"s":"1C 99MHz","t":25,"p":1.17},{"s":"1C 99MHz","t":30,"p":1.222},{"s":"1C 99MHz","t":35,"p":1.27},{"s":"1C 99MHz","t":40,"p":1.311},{"s":"1C 99MHz","t":45,"p":1.345},{"s":"1C 99MHz","t":50,"p":1.373},{"s":"1C 99MHz","t":55,"p":1.395},{"s":"1C 99MHz","t":60,"p":1.415},{"s":"1C 99MHz","t":65,"p":1.433},{"s":"1C 99MHz","t":70,"p":1.447},{"s":"1C 99MHz","t":75,"p":1.458},{"s":"1C 99MHz","t":80,"p":1.468},{"s":"1C 99MHz","t":85,"p":1.478},{"s":"1C 99MHz","t":88,"p":1.484},
{"s":"2C 51MHz","t":0,"p":0.524},{"s":"2C 51MHz","t":5,"p":0.563},{"s":"2C 51MHz","t":10,"p":0.6},{"s":"2C 51MHz","t":15,"p":0.635},{"s":"2C 51MHz","t":20,"p":0.667},{"s":"2C 51MHz","t":25,"p":0.696},{"s":"2C 51MHz","t":30,"p":0.722},{"s":"2C 51MHz","t":35,"p":0.747},{"s":"2C 51MHz","t":40,"p":0.77},{"s":"2C 51MHz","t":45,"p":0.792},{"s":"2C 51MHz","t":50,"p":0.811},{"s":"2C 51MHz","t":55,"p":0.828},{"s":"2C 51MHz","t":60,"p":0.843},{"s":"2C 51MHz","t":65,"p":0.855},{"s":"2C 51MHz","t":70,"p":0.865},{"s":"2C 51MHz","t":75,"p":0.872},{"s":"2C 51MHz","t":80,"p":0.876},{"s":"2C 51MHz","t":85,"p":0.878},{"s":"2C 51MHz","t":88,"p":0.878},
{"s":"3C 38Mhz","t":0,"p":0.48},{"s":"3C 38Mhz","t":5,"p":0.508},{"s":"3C 38Mhz","t":10,"p":0.535},{"s":"3C 38Mhz","t":15,"p":0.561},{"s":"3C 38Mhz","t":20,"p":0.585},{"s":"3C 38Mhz","t":25,"p":0.607},{"s":"3C 38Mhz","t":30,"p":0.628},{"s":"3C 38Mhz","t":35,"p":0.647},{"s":"3C 38Mhz","t":40,"p":0.665},{"s":"3C 38Mhz","t":45,"p":0.682},{"s":"3C 38Mhz","t":50,"p":0.697},{"s":"3C 38Mhz","t":55,"p":0.71},{"s":"3C 38Mhz","t":60,"p":0.721},{"s":"3C 38Mhz","t":65,"p":0.731},{"s":"3C 38Mhz","t":70,"p":0.739},{"s":"3C 38Mhz","t":75,"p":0.745},{"s":"3C 38Mhz","t":80,"p":0.749},{"s":"3C 38Mhz","t":85,"p":0.752},{"s":"3C 38Mhz","t":88,"p":0.753}
]
},
"layer": [
{
"data": {"name": "pts"},
"mark": {"type": "circle", "size": 620, "opacity": 1},
"encoding": {
"x": {"field": "t", "type": "quantitative", "scale": {"domain": [0, 90], "nice": false, "zero": false},
"axis": {"values": [0,10,20,30,40,50,60,70,80,90], "grid": true, "gridColor": "#d9d9d9", "gridWidth": 2.5, "domainColor": "#bfbfbf", "domainWidth": 5, "ticks": false, "labelFlush": false, "labelOverlap": false, "labelFont": "Lato", "labelFontWeight": "bold", "labelFontSize": 58, "labelColor": "#000000", "labelPadding": 57, "title": "TF", "titleFont": "Lato", "titleFontWeight": "bold", "titleFontSize": 58, "titleColor": "#000000", "titleX": 1790, "titleY": 118, "titleBaseline": "alphabetic", "titleAlign": "center"}},
"y": {"field": "p", "type": "quantitative", "scale": {"domain": [0.4, 1.6], "nice": false, "zero": false},
"axis": {"values": [0.4,0.6,0.8,1,1.2,1.4,1.6], "format": "~g", "grid": true, "gridColor": "#d9d9d9", "gridWidth": 3.5, "domainColor": "#bfbfbf", "domainWidth": 3, "ticks": false, "labelFlush": false, "labelOverlap": false, "labelFont": "Lato", "labelFontWeight": "bold", "labelFontSize": 58, "labelColor": "#000000", "labelPadding": 62, "title": "P [W]", "titleFont": "Lato", "titleFontWeight": "bold", "titleFontSize": 58, "titleColor": "#000000", "titleX": -185, "titleY": 758, "titleAngle": -90, "titleBaseline": "alphabetic", "titleAlign": "center"}},
"color": {"field": "s", "type": "nominal", "scale": {"domain": ["1C 99MHz", "2C 51MHz", "3C 38Mhz"], "range": ["#1f6fd1", "#3aae35", "#aaaaaa"]},
"legend": {"orient": "none", "legendX": 180, "legendY": 99, "title": null, "padding": 0, "labelFont": "Lato", "labelFontWeight": "bold", "labelFontSize": 56, "labelColor": "#000000", "labelLimit": 0, "symbolType": "circle", "symbolSize": 490, "symbolStrokeWidth": 0, "symbolOpacity": 1, "rowPadding": 152, "labelOffset": 10}}
}
},
{
"data": {"name": "trend"},
"mark": {"type": "line", "color": "#000000", "strokeWidth": 7, "strokeDash": [1, 18], "strokeCap": "round", "interpolate": "monotone"},
"encoding": {
"x": {"field": "t", "type": "quantitative"},
"y": {"field": "p", "type": "quantitative"},
"detail": {"field": "s", "type": "nominal"}
}
}
]
}
